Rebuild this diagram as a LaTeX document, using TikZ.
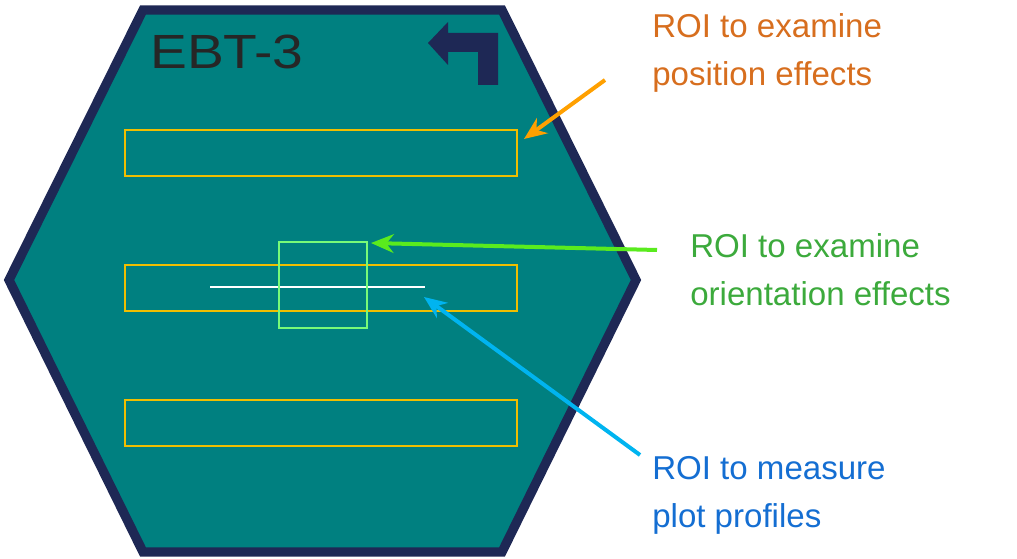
\documentclass[tikz,border=0pt]{standalone}
\usepackage{fontspec}
\setmainfont{Liberation Sans}
\usetikzlibrary{arrows.meta}
\definecolor{teal1}{RGB}{0,128,128}
\definecolor{navy1}{RGB}{30,40,85}
\definecolor{roiy}{RGB}{240,190,0}
\definecolor{roig}{RGB}{120,250,120}
\definecolor{torange}{RGB}{215,110,30}
\definecolor{aorange}{RGB}{255,160,0}
\definecolor{tgreen}{RGB}{60,170,60}
\definecolor{agreen}{RGB}{90,235,30}
\definecolor{tblue}{RGB}{20,110,210}
\definecolor{ablue}{RGB}{0,180,240}
\begin{document}
\begin{tikzpicture}[x=0.75pt,y=-0.75pt,
  roi/.style={draw=roiy,line width=1.3pt},
  lbl/.style={font=\fontsize{24.8}{36}\selectfont,align=left,anchor=west,inner sep=0},
  arr/.style={-{Stealth[length=17pt,width=14pt]},line width=3pt}]
\useasboundingbox (0,0) rectangle (1017,559);
\draw[fill=teal1,draw=navy1,line width=7pt,line join=miter]
  (143,10) -- (502,10) -- (636,280) -- (502,552) -- (143,552) -- (9,280) -- cycle;
\node[anchor=west,font=\fontsize{36}{40}\selectfont,inner sep=0,text=black!85] (ebt) at (150,52) {\scalebox{1.15}[1]{EBT-3}};
\fill[navy1] (478,85) -- (498,85) -- (498,33) -- (448,33) -- (448,22) -- (428,43) -- (448,65) -- (448,52) -- (478,52) -- cycle;
\node[roi,minimum width=294pt,minimum height=35pt,inner sep=0] (r1) at (321,153) {};
\node[roi,minimum width=294pt,minimum height=35pt,inner sep=0] (r2) at (321,288) {};
\node[roi,minimum width=294pt,minimum height=35pt,inner sep=0] (r3) at (321,423) {};
\draw[white,line width=1pt] (210,287) coordinate (w1) -- (425,287) coordinate (w2);
\node[draw=roig,line width=1.5pt,minimum width=66pt,minimum height=65pt,inner sep=0] (sq) at (323,285) {};
\node[lbl,text=torange] (t1) at (652,53) {ROI to examine\\position effects};
\node[lbl,text=tgreen] (t2) at (690,270) {ROI to examine\\orientation effects};
\node[lbl,text=tblue] (t3) at (652,495) {ROI to measure\\plot profiles};
\coordinate (a1) at (605,80); \coordinate (b1) at (524,139);
\coordinate (a2) at (657,250); \coordinate (b2) at (371,243);
\coordinate (a3) at (640,455); \coordinate (b3) at (424,297);
\draw[arr,aorange] (a1) -- (b1);
\draw[arr,agreen] (a2) -- (b2);
\draw[arr,ablue] (a3) -- (b3);
\end{tikzpicture}
\end{document}
